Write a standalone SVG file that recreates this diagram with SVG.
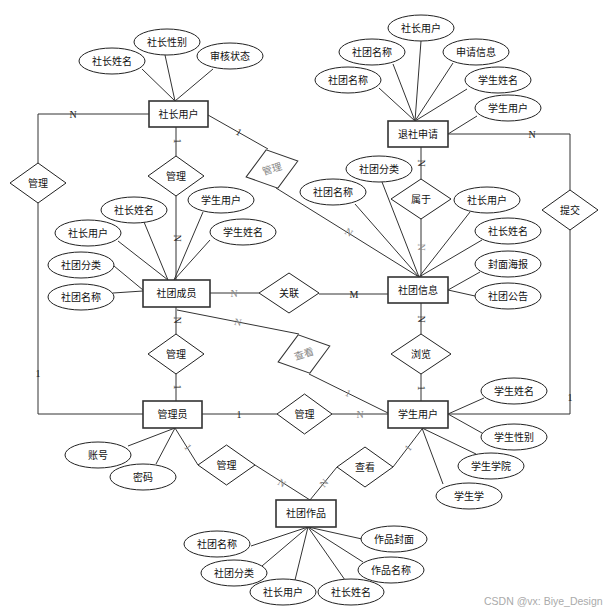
<svg xmlns="http://www.w3.org/2000/svg" width="609" height="612" viewBox="0 0 609 612">
<style>
.bg{fill:#fff}
.ent rect{fill:#fff;stroke:#333;stroke-width:1.6}
.att ellipse{fill:#fff;stroke:#222;stroke-width:1}
.rel polygon{fill:#fff;stroke:#222;stroke-width:1}
text{font-family:"Noto Sans CJK SC","Noto Sans",sans-serif;font-size:10px;fill:#111;text-anchor:middle}
.g text{fill:#888}
.g polygon{stroke:#333}
#connectors line,#connectors polyline{stroke:#333;stroke-width:1;fill:none}
.lb{font-family:"Liberation Serif",serif;font-size:10px;fill:#222}
.lbg{font-family:"Liberation Serif",serif;font-size:10px;fill:#888}
.wm{font-family:"Liberation Sans",sans-serif;font-size:10.5px;fill:#aaa;text-anchor:start}
</style>
<rect class="bg" x="0" y="0" width="609" height="612"/>
<g id="connectors">
<line x1="142" y1="69" x2="175" y2="101"/>
<line x1="165" y1="55" x2="175" y2="101"/>
<line x1="213" y1="69" x2="175" y2="101"/>
<polyline points="149,114 38,114 38,163"/>
<line x1="176" y1="127" x2="176" y2="156"/>
<line x1="208" y1="115" x2="268" y2="149"/>
<line x1="276" y1="188" x2="419" y2="277"/>
<line x1="176" y1="196" x2="176" y2="280"/>
<polyline points="38,203 38,414 143,414"/>
<line x1="421" y1="41" x2="415" y2="121"/>
<line x1="393" y1="64" x2="415" y2="121"/>
<line x1="453" y1="63" x2="415" y2="121"/>
<line x1="379" y1="88" x2="415" y2="121"/>
<line x1="467" y1="89" x2="415" y2="121"/>
<line x1="477" y1="116" x2="448" y2="134"/>
<polyline points="448,134 570,134 570,190"/>
<line x1="421" y1="147" x2="421" y2="179"/>
<line x1="421" y1="219" x2="421" y2="277"/>
<line x1="355" y1="204" x2="419" y2="277"/>
<line x1="382" y1="182" x2="419" y2="277"/>
<line x1="470" y1="212" x2="419" y2="277"/>
<line x1="482" y1="240" x2="419" y2="277"/>
<line x1="480" y1="272" x2="448" y2="290"/>
<line x1="475" y1="296" x2="448" y2="290"/>
<line x1="319" y1="294" x2="388" y2="294"/>
<line x1="210" y1="293" x2="259" y2="293"/>
<line x1="421" y1="303" x2="421" y2="334"/>
<line x1="421" y1="374" x2="421" y2="401"/>
<polyline points="448,414 570,414 570,230"/>
<line x1="484" y1="398" x2="448" y2="414"/>
<line x1="482" y1="433" x2="448" y2="414"/>
<line x1="476" y1="454" x2="422" y2="428"/>
<line x1="443" y1="484" x2="422" y2="428"/>
<line x1="118" y1="241" x2="168" y2="280"/>
<line x1="144" y1="222" x2="168" y2="280"/>
<line x1="203" y1="212" x2="174" y2="280"/>
<line x1="210" y1="240" x2="174" y2="280"/>
<line x1="114" y1="266" x2="143" y2="290"/>
<line x1="113" y1="293" x2="143" y2="291"/>
<line x1="176" y1="307" x2="176" y2="334"/>
<line x1="177" y1="310" x2="299" y2="334"/>
<line x1="309" y1="374" x2="388" y2="413"/>
<line x1="176" y1="374" x2="176" y2="401"/>
<line x1="202" y1="414" x2="277" y2="414"/>
<line x1="332" y1="414" x2="388" y2="414"/>
<line x1="128" y1="446" x2="175" y2="428"/>
<line x1="156" y1="464" x2="175" y2="428"/>
<line x1="175" y1="428" x2="198" y2="465"/>
<line x1="255" y1="465" x2="310" y2="500"/>
<line x1="337" y1="467" x2="310" y2="500"/>
<line x1="393" y1="467" x2="422" y2="429"/>
<line x1="308" y1="527" x2="251" y2="546"/>
<line x1="308" y1="527" x2="262" y2="566"/>
<line x1="308" y1="527" x2="295" y2="580"/>
<line x1="308" y1="527" x2="345" y2="580"/>
<line x1="308" y1="527" x2="363" y2="562"/>
<line x1="308" y1="527" x2="362" y2="539"/>
<text class="lb" x="73" y="117.5">N</text>
<text class="lb" transform="translate(177,141) rotate(90)" y="3.5">1</text>
<text class="lb" transform="translate(239,132) rotate(30)" y="3.5">1</text>
<text class="lbg" transform="translate(349,232) rotate(31)" y="3.5">N</text>
<text class="lb" transform="translate(177,238) rotate(90)" y="3.5">N</text>
<text class="lb" x="38" y="377">1</text>
<text class="lb" x="532" y="137.5">N</text>
<text class="lb" transform="translate(421,163) rotate(90)" y="3.5">N</text>
<text class="lbg" transform="translate(421,247) rotate(90)" y="3.5">N</text>
<text class="lb" x="354" y="297.5">M</text>
<text class="lbg" x="234" y="296.5">N</text>
<text class="lb" transform="translate(421,319) rotate(90)" y="3.5">N</text>
<text class="lb" transform="translate(421,388) rotate(90)" y="3.5">1</text>
<text class="lb" x="570" y="401">1</text>
<text class="lb" transform="translate(177,320) rotate(90)" y="3.5">N</text>
<text class="lbg" transform="translate(238,322) rotate(11)" y="3.5">N</text>
<text class="lbg" transform="translate(348,393) rotate(27)" y="3.5">1</text>
<text class="lb" transform="translate(177,387) rotate(90)" y="3.5">1</text>
<text class="lb" x="239" y="417.5">1</text>
<text class="lbg" x="360" y="417.5">N</text>
<text class="lbg" transform="translate(188,447) rotate(58)" y="3.5">1</text>
<text class="lbg" transform="translate(282,483) rotate(32)" y="3.5">N</text>
<text class="lbg" transform="translate(324,483) rotate(-50)" y="3.5">N</text>
<text class="lbg" transform="translate(408,448) rotate(-52)" y="3.5">1</text>
</g>
<g id="e-shezhang" class="ent"><rect x="149" y="101" width="59" height="26"/><text x="178.5" y="117.5">社长用户</text></g>
<g id="e-tuishe" class="ent"><rect x="388" y="121" width="60" height="26"/><text x="418" y="137.5">退社申请</text></g>
<g id="e-chengyuan" class="ent"><rect x="143" y="280" width="67" height="27"/><text x="176.5" y="297">社团成员</text></g>
<g id="e-xinxi" class="ent"><rect x="388" y="277" width="60" height="26"/><text x="418" y="293.5">社团信息</text></g>
<g id="e-admin" class="ent"><rect x="143" y="401" width="59" height="27"/><text x="172.5" y="418">管理员</text></g>
<g id="e-student" class="ent"><rect x="388" y="401" width="60" height="27"/><text x="418" y="418">学生用户</text></g>
<g id="e-zuopin" class="ent"><rect x="276" y="500" width="60" height="27"/><text x="306" y="517">社团作品</text></g>
<g id="a1" class="att"><ellipse cx="112" cy="61" rx="33" ry="13"/><text x="112" y="64.5">社长姓名</text></g>
<g id="a2" class="att"><ellipse cx="167" cy="42" rx="33" ry="13"/><text x="167" y="45.5">社长性别</text></g>
<g id="a3" class="att"><ellipse cx="230" cy="56" rx="33" ry="13"/><text x="230" y="59.5">审核状态</text></g>
<g id="a4" class="att"><ellipse cx="421" cy="28" rx="33" ry="13"/><text x="421" y="31.5">社长用户</text></g>
<g id="a5" class="att"><ellipse cx="372" cy="52" rx="33" ry="13"/><text x="372" y="55.5">社团名称</text></g>
<g id="a6" class="att"><ellipse cx="476" cy="52" rx="33" ry="13"/><text x="476" y="55.5">申请信息</text></g>
<g id="a7" class="att"><ellipse cx="348" cy="80" rx="33" ry="13"/><text x="348" y="83.5">社团名称</text></g>
<g id="a8" class="att"><ellipse cx="498" cy="80" rx="33" ry="13"/><text x="498" y="83.5">学生姓名</text></g>
<g id="a9" class="att"><ellipse cx="508" cy="108" rx="33" ry="13"/><text x="508" y="111.5">学生用户</text></g>
<g id="a10" class="att"><ellipse cx="379" cy="169" rx="33" ry="13"/><text x="379" y="172.5">社团分类</text></g>
<g id="a11" class="att"><ellipse cx="333" cy="192" rx="33" ry="13"/><text x="333" y="195.5">社团名称</text></g>
<g id="a12" class="att"><ellipse cx="487" cy="200" rx="33" ry="13"/><text x="487" y="203.5">社长用户</text></g>
<g id="a13" class="att"><ellipse cx="508" cy="231" rx="33" ry="13"/><text x="508" y="234.5">社长姓名</text></g>
<g id="a14" class="att"><ellipse cx="508" cy="264" rx="33" ry="13"/><text x="508" y="267.5">封面海报</text></g>
<g id="a15" class="att"><ellipse cx="508" cy="296" rx="33" ry="13"/><text x="508" y="299.5">社团公告</text></g>
<g id="a16" class="att"><ellipse cx="134" cy="210" rx="33" ry="13"/><text x="134" y="213.5">社长姓名</text></g>
<g id="a17" class="att"><ellipse cx="221" cy="200" rx="33" ry="13"/><text x="221" y="203.5">学生用户</text></g>
<g id="a18" class="att"><ellipse cx="88" cy="233" rx="33" ry="13"/><text x="88" y="236.5">社长用户</text></g>
<g id="a19" class="att"><ellipse cx="243" cy="232" rx="33" ry="13"/><text x="243" y="235.5">学生姓名</text></g>
<g id="a20" class="att"><ellipse cx="81" cy="265" rx="33" ry="13"/><text x="81" y="268.5">社团分类</text></g>
<g id="a21" class="att"><ellipse cx="81" cy="297" rx="33" ry="13"/><text x="81" y="300.5">社团名称</text></g>
<g id="a22" class="att"><ellipse cx="514" cy="391" rx="33" ry="13"/><text x="514" y="394.5">学生姓名</text></g>
<g id="a23" class="att"><ellipse cx="514" cy="437" rx="33" ry="13"/><text x="514" y="440.5">学生性别</text></g>
<g id="a24" class="att"><ellipse cx="491" cy="466" rx="33" ry="13"/><text x="491" y="469.5">学生学院</text></g>
<g id="a25" class="att"><ellipse cx="469" cy="496" rx="33" ry="13"/><text x="469" y="499.5">学生学</text></g>
<g id="a26" class="att"><ellipse cx="98" cy="455" rx="33" ry="13"/><text x="98" y="458.5">账号</text></g>
<g id="a27" class="att"><ellipse cx="143" cy="477" rx="33" ry="13"/><text x="143" y="480.5">密码</text></g>
<g id="a28" class="att"><ellipse cx="217" cy="544" rx="33" ry="13"/><text x="217" y="547.5">社团名称</text></g>
<g id="a29" class="att"><ellipse cx="234" cy="573" rx="33" ry="13"/><text x="234" y="576.5">社团分类</text></g>
<g id="a30" class="att"><ellipse cx="283" cy="592" rx="33" ry="13"/><text x="283" y="595.5">社长用户</text></g>
<g id="a31" class="att"><ellipse cx="351" cy="592" rx="33" ry="13"/><text x="351" y="595.5">社长姓名</text></g>
<g id="a32" class="att"><ellipse cx="391" cy="570" rx="33" ry="13"/><text x="391" y="573.5">作品名称</text></g>
<g id="a33" class="att"><ellipse cx="394" cy="539" rx="33" ry="13"/><text x="394" y="542.5">作品封面</text></g>
<g id="r1" class="rel"><polygon points="10,183 38,163 66,183 38,203"/><text x="38" y="186.5">管理</text></g>
<g id="r2" class="rel"><polygon points="148,176 176,156 204,176 176,196"/><text x="176" y="179.5">管理</text></g>
<g id="r3" class="rel g" transform="translate(272,169) rotate(-17)"><polygon points="-27,0 0,-20 27,0 0,20"/><text x="0" y="3.5">管理</text></g>
<g id="r4" class="rel"><polygon points="542,210 570,190 598,210 570,230"/><text x="570" y="213.5">提交</text></g>
<g id="r5" class="rel"><polygon points="391,199 421,179 451,199 421,219"/><text x="421" y="202.5">属于</text></g>
<g id="r6" class="rel"><polygon points="259,293 289,273 319,293 289,313"/><text x="289" y="296.5">关联</text></g>
<g id="r7" class="rel"><polygon points="148,354 176,334 204,354 176,374"/><text x="176" y="357.5">管理</text></g>
<g id="r8" class="rel g" transform="translate(304,354) rotate(-17)"><polygon points="-27,0 0,-20 27,0 0,20"/><text x="0" y="3.5">查看</text></g>
<g id="r9" class="rel"><polygon points="391,354 421,334 451,354 421,374"/><text x="421" y="357.5">浏览</text></g>
<g id="r10" class="rel"><polygon points="277,414 304.5,394 332,414 304.5,434"/><text x="304.5" y="417.5">管理</text></g>
<g id="r11" class="rel"><polygon points="198,465 226.5,445 255,465 226.5,485"/><text x="226.5" y="468.5">管理</text></g>
<g id="r12" class="rel"><polygon points="337,467 365,447 393,467 365,487"/><text x="365" y="470.5">查看</text></g>
<text class="wm" x="484" y="605">CSDN @vx: Biye_Design</text>
</svg>
